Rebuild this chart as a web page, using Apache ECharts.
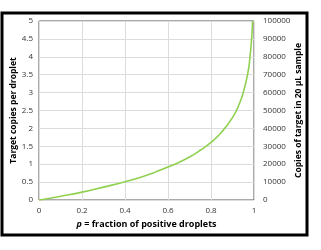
<!DOCTYPE html>
<html>
<head>
<meta charset="utf-8">
<script src="https://cdn.jsdelivr.net/npm/echarts@6/dist/echarts.min.js"></script>
<style>
  html, body { margin: 0; padding: 0; background: #fff; }
  #chart { width: 321px; height: 250px; }
</style>
</head>
<body>
<div id="chart"></div>
<script>
// values
var fraction = [0, 0.05, 0.1, 0.2, 0.3, 0.4, 0.5, 0.55, 0.6, 0.65, 0.7, 0.75, 0.8, 0.85, 0.9, 0.93, 0.95, 0.97, 0.98, 0.99, 0.9933]
var copies = [0, 0.05, 0.105, 0.22, 0.36, 0.51, 0.69, 0.8, 0.92, 1.05, 1.2, 1.39, 1.61, 1.9, 2.3, 2.66, 3.0, 3.5, 3.91, 4.6, 5.0]
var leftTicks = [0, 5, 0.5]
var rightTicks = [0, 100000, 10000]

var font = 'Open Sans'
var chart = echarts.init(document.getElementById('chart'))

chart.setOption({
  backgroundColor: '#fff',
  animation: false,
  graphic: [{
    type: 'rect',
    shape: { x: 2, y: 13, width: 305, height: 222 },
    style: { fill: 'none', stroke: '#000', lineWidth: 3 }
  }],
  grid: {
    left: 39, top: 21, right: 67, bottom: 50,
    outerBoundsMode: 'none',
    containLabel: false,
    show: true, borderColor: '#555', borderWidth: 1
  },
  xAxis: {
    type: 'value',
    min: 0,
    max: 1,
    interval: 0.2,
    name: '{i|p} = fraction of positive droplets',
    nameLocation: 'middle',
    nameGap: 20,
    nameMoveOverlap: false,
    nameTextStyle: {
      fontFamily: font, fontSize: 9, fontWeight: 'bold', color: '#000',
      rich: { i: { fontFamily: font, fontSize: 9, fontWeight: 'bold', fontStyle: 'italic', color: '#000' } }
    },
    axisLine: { show: false },
    axisTick: { show: false },
    axisLabel: { fontFamily: font, fontSize: 8, color: '#333', margin: 7 },
    splitLine: { lineStyle: { color: '#dcdcdc' } }
  },
  yAxis: [{
    type: 'value',
    min: leftTicks[0],
    max: leftTicks[1],
    interval: leftTicks[2],
    name: 'Target copies per droplet',
    nameLocation: 'middle',
    nameGap: 21,
    nameMoveOverlap: false,
    nameTextStyle: { fontFamily: font, fontSize: 8.5, fontWeight: 'bold', color: '#000' },
    axisLine: { show: false },
    axisTick: { show: false },
    axisLabel: { fontFamily: font, fontSize: 8, color: '#333', margin: 6 },
    splitLine: { lineStyle: { color: '#dcdcdc' } }
  }, {
    type: 'value',
    position: 'right',
    min: rightTicks[0],
    max: rightTicks[1],
    interval: rightTicks[2],
    name: 'Copies of target in 20 µL sample',
    nameLocation: 'middle',
    nameGap: 40,
    nameRotate: 90,
    nameMoveOverlap: false,
    nameTextStyle: { fontFamily: font, fontSize: 8.5, fontWeight: 'bold', color: '#000' },
    axisLine: { show: false },
    axisTick: { show: false },
    axisLabel: {
      fontFamily: font, fontSize: 8, color: '#333', margin: 9,
      formatter: function (v) { return String(v) }
    },
    splitLine: { show: false }
  }],
  series: [{
    type: 'line',
    yAxisIndex: 0,
    data: fraction.map(function (p, i) { return [p, copies[i]] }),
    smooth: true,
    showSymbol: false,
    lineStyle: { color: '#8fd14f', width: 1.6 }
  }]
})
</script>
</body>
</html>
